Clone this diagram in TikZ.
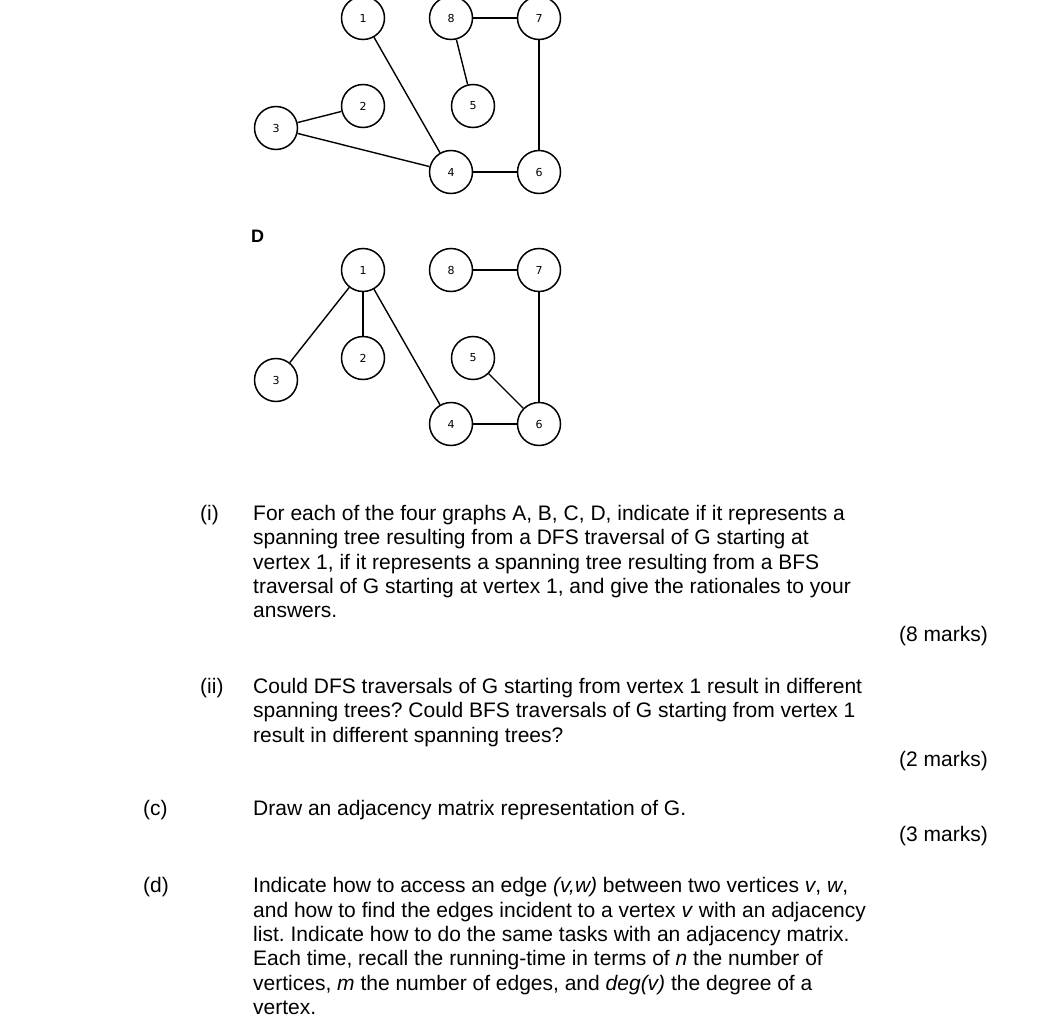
\documentclass[tikz,border=0pt]{standalone}
\usepackage{fontspec}
\setmainfont{Liberation Sans}
\newfontfamily\numfont{DejaVu Sans}
\frenchspacing
\begin{document}
\begin{tikzpicture}[x=1pt,y=-1pt,
  vtx/.style={circle,draw,line width=1.5pt,minimum size=43pt,inner sep=0pt,font=\numfont\fontsize{11}{13}\selectfont},
  edge/.style={line width=1.4pt},
  txt/.style={anchor=base west,inner sep=0pt,font=\fontsize{21}{24}\selectfont},
  marks/.style={anchor=base east,inner sep=0pt,font=\fontsize{21}{24}\selectfont}]
\useasboundingbox (0,0) rectangle (1038,1022);
% graph top
\begin{scope}
\node[vtx] (a1) at (363,18) {1};
\node[vtx] (a8) at (451,18) {8};
\node[vtx] (a7) at (539,18) {7};
\node[vtx] (a2) at (363,106) {2};
\node[vtx] (a5) at (473,106) {5};
\node[vtx] (a3) at (276,128) {3};
\node[vtx] (a4) at (451,172) {4};
\node[vtx] (a6) at (539,172) {6};
\draw[edge] (a8)--(a7); \draw[edge] (a8)--(a5); \draw[edge] (a1)--(a4);
\draw[edge] (a3)--(a2); \draw[edge] (a3)--(a4); \draw[edge] (a4)--(a6);
\draw[edge] (a7)--(a6);
\end{scope}
\node[anchor=base west,inner sep=0pt,font=\bfseries\fontsize{18}{20}\selectfont] (lD) at (251,242) {D};
\begin{scope}
\node[vtx] (b1) at (363,270) {1};
\node[vtx] (b8) at (451,270) {8};
\node[vtx] (b7) at (539,270) {7};
\node[vtx] (b2) at (363,358) {2};
\node[vtx] (b5) at (473,358) {5};
\node[vtx] (b3) at (276,380) {3};
\node[vtx] (b4) at (451,424) {4};
\node[vtx] (b6) at (539,424) {6};
\draw[edge] (b8)--(b7); \draw[edge] (b7)--(b6); \draw[edge] (b1)--(b3);
\draw[edge] (b1)--(b2); \draw[edge] (b1)--(b4); \draw[edge] (b4)--(b6);
\draw[edge] (b5)--(b6);
\end{scope}
% text
\node[txt] (i) at (200,520) {(i)};
\node[txt] (t1) at (253,520) {For each of the four graphs A, B, C, D, indicate if it represents a};
\node[txt] (t2) at (253,544) {spanning tree resulting from a DFS traversal of G starting at};
\node[txt] (t3) at (253,569) {vertex 1, if it represents a spanning tree resulting from a BFS};
\node[txt] (t4) at (253,593) {traversal of G starting at vertex 1, and give the rationales to your};
\node[txt] (t5) at (253,617) {answers.};
\node[marks] (m8) at (988,641) {(8 marks)};
\node[txt] (ii) at (200,693) {(ii)};
\node[txt] (u1) at (253,693) {Could DFS traversals of G starting from vertex 1 result in different};
\node[txt] (u2) at (253,717) {spanning trees? Could BFS traversals of G starting from vertex 1};
\node[txt] (u3) at (253,742) {result in different spanning trees?};
\node[marks] (m2) at (988,766) {(2 marks)};
\node[txt] (c) at (143,815) {(c)};
\node[txt] (c1) at (253,815) {Draw an adjacency matrix representation of G.};
\node[marks] (m3) at (988,841) {(3 marks)};
\node[txt] (d) at (143,892) {(d)};
\node[txt] (d1) at (253,892) {Indicate how to access an edge \textit{(v,w)} between two vertices \textit{v}, \textit{w},};
\node[txt] (d2) at (253,917) {and how to find the edges incident to a vertex \textit{v} with an adjacency};
\node[txt] (d3) at (253,941) {list. Indicate how to do the same tasks with an adjacency matrix.};
\node[txt] (d4) at (253,965) {Each time, recall the running-time in terms of \textit{n} the number of};
\node[txt] (d5) at (253,990) {vertices, \textit{m} the number of edges, and \textit{deg(v)} the degree of a};
\node[txt] (d6) at (253,1014) {vertex.};
\end{tikzpicture}
\end{document}
